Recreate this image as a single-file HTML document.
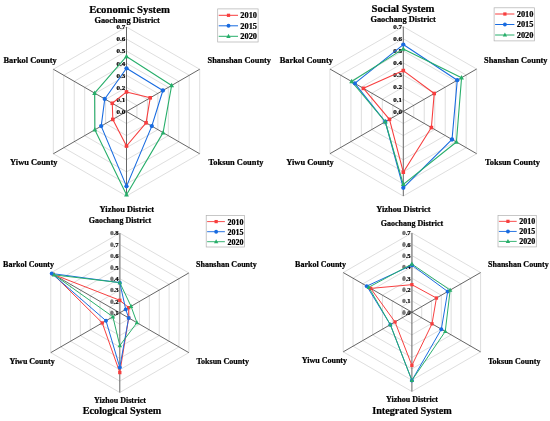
<!DOCTYPE html>
<html><head><meta charset="utf-8"><title>Radar charts</title>
<style>
html,body{margin:0;padding:0;background:#fff;}
svg{display:block}
.b{font-family:"Liberation Serif",serif;font-weight:bold;fill:#000;stroke:#000;stroke-width:0.22px;paint-order:stroke fill}
.z{fill:#7a7a7a;stroke:#7a7a7a}
</style></head><body>
<svg width="550" height="421" viewBox="0 0 550 421">
<rect width="550" height="421" fill="#fff"/>
<polygon points="126.50,99.43 136.95,105.46 136.95,117.54 126.50,123.57 116.05,117.54 116.05,105.46" fill="none" stroke="#c8c8c8" stroke-width="0.6"/>
<polygon points="126.50,87.36 147.41,99.43 147.41,123.57 126.50,135.64 105.59,123.57 105.59,99.43" fill="none" stroke="#c8c8c8" stroke-width="0.6"/>
<polygon points="126.50,75.29 157.86,93.39 157.86,129.61 126.50,147.71 95.14,129.61 95.14,93.39" fill="none" stroke="#c8c8c8" stroke-width="0.6"/>
<polygon points="126.50,63.21 168.32,87.36 168.32,135.64 126.50,159.79 84.68,135.64 84.68,87.36" fill="none" stroke="#c8c8c8" stroke-width="0.6"/>
<polygon points="126.50,51.14 178.77,81.32 178.77,141.68 126.50,171.86 74.23,141.68 74.23,81.32" fill="none" stroke="#c8c8c8" stroke-width="0.6"/>
<polygon points="126.50,39.07 189.22,75.29 189.22,147.71 126.50,183.93 63.78,147.71 63.78,75.29" fill="none" stroke="#c8c8c8" stroke-width="0.6"/>
<polygon points="126.50,27.00 199.68,69.25 199.68,153.75 126.50,196.00 53.32,153.75 53.32,69.25" fill="none" stroke="#c8c8c8" stroke-width="0.6"/>
<line x1="126.5" y1="111.5" x2="126.50" y2="27.00" stroke="#555" stroke-width="0.9"/>
<line x1="126.5" y1="111.5" x2="199.68" y2="69.25" stroke="#555" stroke-width="0.9"/>
<line x1="126.5" y1="111.5" x2="199.68" y2="153.75" stroke="#555" stroke-width="0.9"/>
<line x1="126.5" y1="111.5" x2="126.50" y2="196.00" stroke="#555" stroke-width="0.9"/>
<line x1="126.5" y1="111.5" x2="53.32" y2="153.75" stroke="#555" stroke-width="0.9"/>
<line x1="126.5" y1="111.5" x2="53.32" y2="69.25" stroke="#555" stroke-width="0.9"/>
<text x="125.30" y="113.80" font-size="7.0" text-anchor="end" class="b">0.0</text>
<text x="125.30" y="101.73" font-size="7.0" text-anchor="end" class="b">0.1</text>
<text x="125.30" y="89.66" font-size="7.0" text-anchor="end" class="b">0.2</text>
<text x="125.30" y="77.59" font-size="7.0" text-anchor="end" class="b">0.3</text>
<text x="125.30" y="65.51" font-size="7.0" text-anchor="end" class="b">0.4</text>
<text x="125.30" y="53.44" font-size="7.0" text-anchor="end" class="b">0.5</text>
<text x="125.30" y="41.37" font-size="7.0" text-anchor="end" class="b">0.6</text>
<text x="125.30" y="29.30" font-size="7.0" text-anchor="end" class="b">0.7</text>
<polygon points="126.50,91.94 150.23,97.80 146.05,122.79 126.50,146.02 112.81,119.41 112.28,103.29" fill="none" stroke="#F73E3E" stroke-width="1.08" stroke-linejoin="round"/>
<polygon points="126.50,68.28 162.88,90.50 151.80,126.11 126.50,186.34 101.20,126.11 104.76,98.95" fill="none" stroke="#186BE0" stroke-width="1.08" stroke-linejoin="round"/>
<polygon points="126.50,56.45 171.66,85.43 163.09,132.62 126.50,194.79 94.82,129.79 94.61,93.09" fill="none" stroke="#27AE6A" stroke-width="1.08" stroke-linejoin="round"/>
<rect x="124.70" y="90.14" width="3.60" height="3.60" fill="#F73E3E"/>
<rect x="148.43" y="96.00" width="3.60" height="3.60" fill="#F73E3E"/>
<rect x="144.25" y="120.99" width="3.60" height="3.60" fill="#F73E3E"/>
<rect x="124.70" y="144.22" width="3.60" height="3.60" fill="#F73E3E"/>
<rect x="111.01" y="117.61" width="3.60" height="3.60" fill="#F73E3E"/>
<rect x="110.48" y="101.49" width="3.60" height="3.60" fill="#F73E3E"/>
<circle cx="126.50" cy="68.28" r="2.15" fill="#186BE0"/>
<circle cx="162.88" cy="90.50" r="2.15" fill="#186BE0"/>
<circle cx="151.80" cy="126.11" r="2.15" fill="#186BE0"/>
<circle cx="126.50" cy="186.34" r="2.15" fill="#186BE0"/>
<circle cx="101.20" cy="126.11" r="2.15" fill="#186BE0"/>
<circle cx="104.76" cy="98.95" r="2.15" fill="#186BE0"/>
<polygon points="126.50,53.75 124.10,58.25 128.90,58.25" fill="#27AE6A"/>
<polygon points="171.66,82.73 169.26,87.23 174.06,87.23" fill="#27AE6A"/>
<polygon points="163.09,129.93 160.69,134.43 165.49,134.43" fill="#27AE6A"/>
<polygon points="126.50,192.09 124.10,196.59 128.90,196.59" fill="#27AE6A"/>
<polygon points="94.82,127.09 92.42,131.59 97.22,131.59" fill="#27AE6A"/>
<polygon points="94.61,90.39 92.21,94.89 97.01,94.89" fill="#27AE6A"/>
<text x="127.1" y="22.5" font-size="8.4" text-anchor="middle" class="b">Gaochang District</text>
<text x="207.5" y="63.3" font-size="8.4" text-anchor="start" class="b">Shanshan County</text>
<text x="208.5" y="164.6" font-size="8.4" text-anchor="start" class="b">Toksun County</text>
<text x="126.8" y="212.3" font-size="8.4" text-anchor="middle" class="b">Yizhou District</text>
<text x="57.5" y="164.6" font-size="8.4" text-anchor="end" class="b">Yiwu County</text>
<text x="56.7" y="63.3" font-size="8.4" text-anchor="end" class="b">Barkol County</text>
<text x="129.5" y="12.6" font-size="10.72" text-anchor="middle" class="b">Economic System</text>
<rect x="217.7" y="8.9" width="40.4" height="33.1" fill="#fff" stroke="#b0b0b0" stroke-width="0.7"/>
<line x1="218.70" y1="15.3" x2="238.00" y2="15.3" stroke="#F73E3E" stroke-width="1.00"/>
<rect x="226.88" y="13.68" width="3.24" height="3.24" fill="#F73E3E"/>
<text x="240.30" y="18.25" font-size="8.4" class="b">2010</text>
<line x1="218.70" y1="25.8" x2="238.00" y2="25.8" stroke="#186BE0" stroke-width="1.00"/>
<circle cx="228.50" cy="25.80" r="1.94" fill="#186BE0"/>
<text x="240.30" y="28.75" font-size="8.4" class="b">2015</text>
<line x1="218.70" y1="36.3" x2="238.00" y2="36.3" stroke="#27AE6A" stroke-width="1.00"/>
<polygon points="228.50,33.87 226.34,37.92 230.66,37.92" fill="#27AE6A"/>
<text x="240.30" y="39.25" font-size="8.4" class="b">2020</text>
<polygon points="403.30,99.25 413.78,105.30 413.78,117.40 403.30,123.45 392.82,117.40 392.82,105.30" fill="none" stroke="#c8c8c8" stroke-width="0.6"/>
<polygon points="403.30,87.15 424.26,99.25 424.26,123.45 403.30,135.55 382.34,123.45 382.34,99.25" fill="none" stroke="#c8c8c8" stroke-width="0.6"/>
<polygon points="403.30,75.05 434.74,93.20 434.74,129.50 403.30,147.65 371.86,129.50 371.86,93.20" fill="none" stroke="#c8c8c8" stroke-width="0.6"/>
<polygon points="403.30,62.95 445.22,87.15 445.22,135.55 403.30,159.75 361.38,135.55 361.38,87.15" fill="none" stroke="#c8c8c8" stroke-width="0.6"/>
<polygon points="403.30,50.85 455.69,81.10 455.69,141.60 403.30,171.85 350.91,141.60 350.91,81.10" fill="none" stroke="#c8c8c8" stroke-width="0.6"/>
<polygon points="403.30,38.75 466.17,75.05 466.17,147.65 403.30,183.95 340.43,147.65 340.43,75.05" fill="none" stroke="#c8c8c8" stroke-width="0.6"/>
<polygon points="403.30,26.65 476.65,69.00 476.65,153.70 403.30,196.05 329.95,153.70 329.95,69.00" fill="none" stroke="#c8c8c8" stroke-width="0.6"/>
<line x1="403.3" y1="111.35" x2="403.30" y2="26.65" stroke="#555" stroke-width="0.9"/>
<line x1="403.3" y1="111.35" x2="476.65" y2="69.00" stroke="#555" stroke-width="0.9"/>
<line x1="403.3" y1="111.35" x2="476.65" y2="153.70" stroke="#555" stroke-width="0.9"/>
<line x1="403.3" y1="111.35" x2="403.30" y2="196.05" stroke="#555" stroke-width="0.9"/>
<line x1="403.3" y1="111.35" x2="329.95" y2="153.70" stroke="#555" stroke-width="0.9"/>
<line x1="403.3" y1="111.35" x2="329.95" y2="69.00" stroke="#555" stroke-width="0.9"/>
<text x="402.10" y="113.65" font-size="7.0" text-anchor="end" class="b">0.0</text>
<text x="402.10" y="101.55" font-size="7.0" text-anchor="end" class="b">0.1</text>
<text x="402.10" y="89.45" font-size="7.0" text-anchor="end" class="b">0.2</text>
<text x="402.10" y="77.35" font-size="7.0" text-anchor="end" class="b">0.3</text>
<text x="402.10" y="65.25" font-size="7.0" text-anchor="end" class="b">0.4</text>
<text x="402.10" y="53.15" font-size="7.0" text-anchor="end" class="b">0.5</text>
<text x="402.10" y="41.05" font-size="7.0" text-anchor="end" class="b">0.6</text>
<text x="402.10" y="28.95" font-size="7.0" text-anchor="end" class="b">0.7</text>
<polygon points="403.30,70.57 434.21,93.50 431.38,127.56 403.30,172.21 389.47,119.34 363.48,88.36" fill="none" stroke="#F73E3E" stroke-width="1.08" stroke-linejoin="round"/>
<polygon points="403.30,44.56 457.27,80.19 452.03,139.48 403.30,187.82 385.28,121.76 354.78,83.34" fill="none" stroke="#186BE0" stroke-width="1.08" stroke-linejoin="round"/>
<polygon points="403.30,48.91 461.56,77.71 456.43,142.02 403.30,184.31 385.28,121.76 351.64,81.52" fill="none" stroke="#27AE6A" stroke-width="1.08" stroke-linejoin="round"/>
<rect x="401.50" y="68.77" width="3.60" height="3.60" fill="#F73E3E"/>
<rect x="432.41" y="91.70" width="3.60" height="3.60" fill="#F73E3E"/>
<rect x="429.58" y="125.76" width="3.60" height="3.60" fill="#F73E3E"/>
<rect x="401.50" y="170.41" width="3.60" height="3.60" fill="#F73E3E"/>
<rect x="387.67" y="117.54" width="3.60" height="3.60" fill="#F73E3E"/>
<rect x="361.68" y="86.56" width="3.60" height="3.60" fill="#F73E3E"/>
<circle cx="403.30" cy="44.56" r="2.15" fill="#186BE0"/>
<circle cx="457.27" cy="80.19" r="2.15" fill="#186BE0"/>
<circle cx="452.03" cy="139.48" r="2.15" fill="#186BE0"/>
<circle cx="403.30" cy="187.82" r="2.15" fill="#186BE0"/>
<circle cx="385.28" cy="121.76" r="2.15" fill="#186BE0"/>
<circle cx="354.78" cy="83.34" r="2.15" fill="#186BE0"/>
<polygon points="403.30,46.21 400.90,50.71 405.70,50.71" fill="#27AE6A"/>
<polygon points="461.56,75.01 459.16,79.51 463.96,79.51" fill="#27AE6A"/>
<polygon points="456.43,139.32 454.03,143.82 458.83,143.82" fill="#27AE6A"/>
<polygon points="403.30,181.61 400.90,186.11 405.70,186.11" fill="#27AE6A"/>
<polygon points="385.28,119.06 382.88,123.56 387.68,123.56" fill="#27AE6A"/>
<polygon points="351.64,78.82 349.24,83.32 354.04,83.32" fill="#27AE6A"/>
<text x="403.1" y="22.1" font-size="8.4" text-anchor="middle" class="b">Gaochang District</text>
<text x="484" y="63.3" font-size="8.4" text-anchor="start" class="b">Shanshan County</text>
<text x="485" y="164.6" font-size="8.4" text-anchor="start" class="b">Toksun County</text>
<text x="403.4" y="212.1" font-size="8.4" text-anchor="middle" class="b">Yizhou District</text>
<text x="333.7" y="164.6" font-size="8.4" text-anchor="end" class="b">Yiwu County</text>
<text x="333" y="63.3" font-size="8.4" text-anchor="end" class="b">Barkol County</text>
<text x="403" y="11.6" font-size="10.72" text-anchor="middle" class="b">Social System</text>
<rect x="494.1" y="7.8" width="40.4" height="33.1" fill="#fff" stroke="#b0b0b0" stroke-width="0.7"/>
<line x1="495.10" y1="14.0" x2="514.40" y2="14.0" stroke="#F73E3E" stroke-width="1.00"/>
<rect x="503.28" y="12.38" width="3.24" height="3.24" fill="#F73E3E"/>
<text x="516.70" y="16.95" font-size="8.4" class="b">2010</text>
<line x1="495.10" y1="24.5" x2="514.40" y2="24.5" stroke="#186BE0" stroke-width="1.00"/>
<circle cx="504.90" cy="24.50" r="1.94" fill="#186BE0"/>
<text x="516.70" y="27.45" font-size="8.4" class="b">2015</text>
<line x1="495.10" y1="35.0" x2="514.40" y2="35.0" stroke="#27AE6A" stroke-width="1.00"/>
<polygon points="504.90,32.57 502.74,36.62 507.06,36.62" fill="#27AE6A"/>
<text x="516.70" y="37.95" font-size="8.4" class="b">2020</text>
<polygon points="119.80,301.41 129.66,307.11 129.66,318.49 119.80,324.19 109.94,318.49 109.94,307.11" fill="none" stroke="#c8c8c8" stroke-width="0.6"/>
<polygon points="119.80,290.03 139.52,301.41 139.52,324.19 119.80,335.57 100.08,324.19 100.08,301.41" fill="none" stroke="#c8c8c8" stroke-width="0.6"/>
<polygon points="119.80,278.64 149.38,295.72 149.38,329.88 119.80,346.96 90.22,329.88 90.22,295.72" fill="none" stroke="#c8c8c8" stroke-width="0.6"/>
<polygon points="119.80,267.26 159.24,290.03 159.24,335.57 119.80,358.34 80.36,335.57 80.36,290.03" fill="none" stroke="#c8c8c8" stroke-width="0.6"/>
<polygon points="119.80,255.87 169.10,284.34 169.10,341.26 119.80,369.73 70.50,341.26 70.50,284.34" fill="none" stroke="#c8c8c8" stroke-width="0.6"/>
<polygon points="119.80,244.49 178.96,278.64 178.96,346.96 119.80,381.11 60.64,346.96 60.64,278.64" fill="none" stroke="#c8c8c8" stroke-width="0.6"/>
<polygon points="119.80,233.10 188.82,272.95 188.82,352.65 119.80,392.50 50.78,352.65 50.78,272.95" fill="none" stroke="#c8c8c8" stroke-width="0.6"/>
<line x1="119.8" y1="312.8" x2="119.80" y2="233.10" stroke="#9a9a9a" stroke-width="1.7"/>
<line x1="119.8" y1="312.8" x2="188.82" y2="272.95" stroke="#555" stroke-width="0.9"/>
<line x1="119.8" y1="312.8" x2="188.82" y2="352.65" stroke="#555" stroke-width="0.9"/>
<line x1="119.8" y1="312.8" x2="119.80" y2="392.50" stroke="#555" stroke-width="0.9"/>
<line x1="119.8" y1="312.8" x2="50.78" y2="352.65" stroke="#555" stroke-width="0.9"/>
<line x1="119.8" y1="312.8" x2="50.78" y2="272.95" stroke="#555" stroke-width="0.9"/>
<ellipse cx="111.90" cy="312.80" rx="1.54" ry="2.21" fill="#7a7a7a"/>
<text x="118.60" y="315.10" font-size="6.7" text-anchor="end" class="b"><tspan class="z">0</tspan>.1</text>
<ellipse cx="111.90" cy="301.41" rx="1.54" ry="2.21" fill="#7a7a7a"/>
<text x="118.60" y="303.71" font-size="6.7" text-anchor="end" class="b"><tspan class="z">0</tspan>.2</text>
<ellipse cx="111.90" cy="290.03" rx="1.54" ry="2.21" fill="#7a7a7a"/>
<text x="118.60" y="292.33" font-size="6.7" text-anchor="end" class="b"><tspan class="z">0</tspan>.3</text>
<ellipse cx="111.90" cy="278.64" rx="1.54" ry="2.21" fill="#7a7a7a"/>
<text x="118.60" y="280.94" font-size="6.7" text-anchor="end" class="b"><tspan class="z">0</tspan>.4</text>
<ellipse cx="111.90" cy="267.26" rx="1.54" ry="2.21" fill="#7a7a7a"/>
<text x="118.60" y="269.56" font-size="6.7" text-anchor="end" class="b"><tspan class="z">0</tspan>.5</text>
<ellipse cx="111.90" cy="255.87" rx="1.54" ry="2.21" fill="#7a7a7a"/>
<text x="118.60" y="258.17" font-size="6.7" text-anchor="end" class="b"><tspan class="z">0</tspan>.6</text>
<ellipse cx="111.90" cy="244.49" rx="1.54" ry="2.21" fill="#7a7a7a"/>
<text x="118.60" y="246.79" font-size="6.7" text-anchor="end" class="b"><tspan class="z">0</tspan>.7</text>
<ellipse cx="111.90" cy="233.10" rx="1.54" ry="2.21" fill="#7a7a7a"/>
<text x="118.60" y="235.40" font-size="6.7" text-anchor="end" class="b"><tspan class="z">0</tspan>.8</text>
<polygon points="119.80,300.28 128.67,307.68 128.67,317.92 119.80,372.57 102.25,322.93 53.24,274.37" fill="none" stroke="#F73E3E" stroke-width="0.99" stroke-linejoin="round"/>
<polygon points="119.80,282.63 125.72,309.38 128.67,317.92 119.80,367.45 106.00,320.77 51.76,273.52" fill="none" stroke="#186BE0" stroke-width="0.99" stroke-linejoin="round"/>
<polygon points="119.80,282.63 131.04,306.31 136.96,322.71 119.80,345.59 112.90,316.79 54.03,274.83" fill="none" stroke="#27AE6A" stroke-width="0.99" stroke-linejoin="round"/>
<rect x="118.14" y="298.62" width="3.31" height="3.31" fill="#F73E3E"/>
<rect x="127.02" y="306.02" width="3.31" height="3.31" fill="#F73E3E"/>
<rect x="127.02" y="316.27" width="3.31" height="3.31" fill="#F73E3E"/>
<rect x="118.14" y="370.92" width="3.31" height="3.31" fill="#F73E3E"/>
<rect x="100.59" y="321.28" width="3.31" height="3.31" fill="#F73E3E"/>
<rect x="51.59" y="272.72" width="3.31" height="3.31" fill="#F73E3E"/>
<circle cx="119.80" cy="282.63" r="1.98" fill="#186BE0"/>
<circle cx="125.72" cy="309.38" r="1.98" fill="#186BE0"/>
<circle cx="128.67" cy="317.92" r="1.98" fill="#186BE0"/>
<circle cx="119.80" cy="367.45" r="1.98" fill="#186BE0"/>
<circle cx="106.00" cy="320.77" r="1.98" fill="#186BE0"/>
<circle cx="51.76" cy="273.52" r="1.98" fill="#186BE0"/>
<polygon points="119.80,280.14 117.59,284.28 122.01,284.28" fill="#27AE6A"/>
<polygon points="131.04,303.83 128.83,307.97 133.25,307.97" fill="#27AE6A"/>
<polygon points="136.96,320.22 134.75,324.36 139.16,324.36" fill="#27AE6A"/>
<polygon points="119.80,343.11 117.59,347.25 122.01,347.25" fill="#27AE6A"/>
<polygon points="112.90,314.30 110.69,318.44 115.11,318.44" fill="#27AE6A"/>
<polygon points="54.03,272.34 51.82,276.48 56.24,276.48" fill="#27AE6A"/>
<text x="120" y="223" font-size="8.0" text-anchor="middle" class="b">Gaochang District</text>
<text x="196" y="267" font-size="8.0" text-anchor="start" class="b">Shanshan County</text>
<text x="196.5" y="364.2" font-size="8.0" text-anchor="start" class="b">Toksun County</text>
<text x="120" y="402.5" font-size="8.0" text-anchor="middle" class="b">Yizhou District</text>
<text x="54.7" y="364.2" font-size="8.0" text-anchor="end" class="b">Yiwu County</text>
<text x="54" y="267" font-size="8.0" text-anchor="end" class="b">Barkol County</text>
<text x="122" y="413.7" font-size="10.2" text-anchor="middle" class="b">Ecological System</text>
<rect x="206.2" y="215.5" width="38.3" height="31.5" fill="#fff" stroke="#b0b0b0" stroke-width="0.7"/>
<line x1="207.12" y1="221.6" x2="224.88" y2="221.6" stroke="#F73E3E" stroke-width="0.92"/>
<rect x="214.52" y="219.98" width="3.24" height="3.24" fill="#F73E3E"/>
<text x="227.50" y="224.55" font-size="8.0" class="b">2010</text>
<line x1="207.12" y1="231.7" x2="224.88" y2="231.7" stroke="#186BE0" stroke-width="0.92"/>
<circle cx="216.14" cy="231.70" r="1.94" fill="#186BE0"/>
<text x="227.50" y="234.65" font-size="8.0" class="b">2015</text>
<line x1="207.12" y1="241.7" x2="224.88" y2="241.7" stroke="#27AE6A" stroke-width="0.92"/>
<polygon points="216.14,239.27 213.98,243.32 218.30,243.32" fill="#27AE6A"/>
<text x="227.50" y="244.65" font-size="8.0" class="b">2020</text>
<polygon points="411.90,300.87 421.71,306.54 421.71,317.86 411.90,323.53 402.09,317.86 402.09,306.54" fill="none" stroke="#c8c8c8" stroke-width="0.6"/>
<polygon points="411.90,289.54 431.52,300.87 431.52,323.53 411.90,334.86 392.28,323.53 392.28,300.87" fill="none" stroke="#c8c8c8" stroke-width="0.6"/>
<polygon points="411.90,278.21 441.33,295.21 441.33,329.19 411.90,346.19 382.47,329.19 382.47,295.21" fill="none" stroke="#c8c8c8" stroke-width="0.6"/>
<polygon points="411.90,266.89 451.14,289.54 451.14,334.86 411.90,357.51 372.66,334.86 372.66,289.54" fill="none" stroke="#c8c8c8" stroke-width="0.6"/>
<polygon points="411.90,255.56 460.95,283.88 460.95,340.52 411.90,368.84 362.85,340.52 362.85,283.88" fill="none" stroke="#c8c8c8" stroke-width="0.6"/>
<polygon points="411.90,244.23 470.76,278.21 470.76,346.19 411.90,380.17 353.04,346.19 353.04,278.21" fill="none" stroke="#c8c8c8" stroke-width="0.6"/>
<polygon points="411.90,232.90 480.58,272.55 480.58,351.85 411.90,391.50 343.22,351.85 343.22,272.55" fill="none" stroke="#c8c8c8" stroke-width="0.6"/>
<line x1="411.9" y1="312.2" x2="411.90" y2="232.90" stroke="#9a9a9a" stroke-width="1.7"/>
<line x1="411.9" y1="312.2" x2="480.58" y2="272.55" stroke="#555" stroke-width="0.9"/>
<line x1="411.9" y1="312.2" x2="480.58" y2="351.85" stroke="#555" stroke-width="0.9"/>
<line x1="411.9" y1="312.2" x2="411.90" y2="391.50" stroke="#555" stroke-width="0.9"/>
<line x1="411.9" y1="312.2" x2="343.22" y2="351.85" stroke="#555" stroke-width="0.9"/>
<line x1="411.9" y1="312.2" x2="343.22" y2="272.55" stroke="#555" stroke-width="0.9"/>
<ellipse cx="404.00" cy="312.20" rx="1.54" ry="2.21" fill="#7a7a7a"/>
<text x="410.70" y="314.50" font-size="6.7" text-anchor="end" class="b"><tspan class="z">0</tspan>.0</text>
<ellipse cx="404.00" cy="300.87" rx="1.54" ry="2.21" fill="#7a7a7a"/>
<text x="410.70" y="303.17" font-size="6.7" text-anchor="end" class="b"><tspan class="z">0</tspan>.1</text>
<ellipse cx="404.00" cy="289.54" rx="1.54" ry="2.21" fill="#7a7a7a"/>
<text x="410.70" y="291.84" font-size="6.7" text-anchor="end" class="b"><tspan class="z">0</tspan>.2</text>
<ellipse cx="404.00" cy="278.21" rx="1.54" ry="2.21" fill="#7a7a7a"/>
<text x="410.70" y="280.51" font-size="6.7" text-anchor="end" class="b"><tspan class="z">0</tspan>.3</text>
<ellipse cx="404.00" cy="266.89" rx="1.54" ry="2.21" fill="#7a7a7a"/>
<text x="410.70" y="269.19" font-size="6.7" text-anchor="end" class="b"><tspan class="z">0</tspan>.4</text>
<ellipse cx="404.00" cy="255.56" rx="1.54" ry="2.21" fill="#7a7a7a"/>
<text x="410.70" y="257.86" font-size="6.7" text-anchor="end" class="b"><tspan class="z">0</tspan>.5</text>
<ellipse cx="404.00" cy="244.23" rx="1.54" ry="2.21" fill="#7a7a7a"/>
<text x="410.70" y="246.53" font-size="6.7" text-anchor="end" class="b"><tspan class="z">0</tspan>.6</text>
<ellipse cx="404.00" cy="232.90" rx="1.54" ry="2.21" fill="#7a7a7a"/>
<text x="410.70" y="235.20" font-size="6.7" text-anchor="end" class="b"><tspan class="z">0</tspan>.7</text>
<polygon points="411.90,284.67 436.43,298.04 432.01,323.81 411.90,365.44 395.03,321.94 370.69,288.41" fill="none" stroke="#F73E3E" stroke-width="0.99" stroke-linejoin="round"/>
<polygon points="411.90,265.19 447.71,291.53 441.33,329.19 411.90,380.40 390.32,324.66 366.77,286.14" fill="none" stroke="#186BE0" stroke-width="0.99" stroke-linejoin="round"/>
<polygon points="411.90,264.05 450.16,290.11 445.26,331.46 411.90,380.40 390.32,324.66 368.73,287.28" fill="none" stroke="#27AE6A" stroke-width="0.99" stroke-linejoin="round"/>
<rect x="410.24" y="283.02" width="3.31" height="3.31" fill="#F73E3E"/>
<rect x="434.77" y="296.38" width="3.31" height="3.31" fill="#F73E3E"/>
<rect x="430.36" y="322.16" width="3.31" height="3.31" fill="#F73E3E"/>
<rect x="410.24" y="363.79" width="3.31" height="3.31" fill="#F73E3E"/>
<rect x="393.37" y="320.29" width="3.31" height="3.31" fill="#F73E3E"/>
<rect x="369.04" y="286.75" width="3.31" height="3.31" fill="#F73E3E"/>
<circle cx="411.90" cy="265.19" r="1.98" fill="#186BE0"/>
<circle cx="447.71" cy="291.53" r="1.98" fill="#186BE0"/>
<circle cx="441.33" cy="329.19" r="1.98" fill="#186BE0"/>
<circle cx="411.90" cy="380.40" r="1.98" fill="#186BE0"/>
<circle cx="390.32" cy="324.66" r="1.98" fill="#186BE0"/>
<circle cx="366.77" cy="286.14" r="1.98" fill="#186BE0"/>
<polygon points="411.90,261.57 409.69,265.71 414.11,265.71" fill="#27AE6A"/>
<polygon points="450.16,287.63 447.95,291.77 452.37,291.77" fill="#27AE6A"/>
<polygon points="445.26,328.97 443.05,333.11 447.46,333.11" fill="#27AE6A"/>
<polygon points="411.90,377.91 409.69,382.05 414.11,382.05" fill="#27AE6A"/>
<polygon points="390.32,322.18 388.11,326.32 392.52,326.32" fill="#27AE6A"/>
<polygon points="368.73,284.79 366.52,288.93 370.94,288.93" fill="#27AE6A"/>
<text x="412" y="226" font-size="8.0" text-anchor="middle" class="b">Gaochang District</text>
<text x="488" y="267" font-size="8.0" text-anchor="start" class="b">Shanshan County</text>
<text x="488" y="364" font-size="8.0" text-anchor="start" class="b">Toksun County</text>
<text x="412" y="401.6" font-size="8.0" text-anchor="middle" class="b">Yizhou District</text>
<text x="347" y="363" font-size="8.0" text-anchor="end" class="b">Yiwu County</text>
<text x="346" y="267" font-size="8.0" text-anchor="end" class="b">Barkol County</text>
<text x="412" y="413.6" font-size="10.2" text-anchor="middle" class="b">Integrated System</text>
<rect x="498" y="215.4" width="38.3" height="31.5" fill="#fff" stroke="#b0b0b0" stroke-width="0.7"/>
<line x1="498.92" y1="221.35" x2="516.68" y2="221.35" stroke="#F73E3E" stroke-width="0.92"/>
<rect x="506.32" y="219.73" width="3.24" height="3.24" fill="#F73E3E"/>
<text x="519.30" y="224.30" font-size="8.0" class="b">2010</text>
<line x1="498.92" y1="231.45" x2="516.68" y2="231.45" stroke="#186BE0" stroke-width="0.92"/>
<circle cx="507.94" cy="231.45" r="1.94" fill="#186BE0"/>
<text x="519.30" y="234.40" font-size="8.0" class="b">2015</text>
<line x1="498.92" y1="241.4" x2="516.68" y2="241.4" stroke="#27AE6A" stroke-width="0.92"/>
<polygon points="507.94,238.97 505.78,243.02 510.10,243.02" fill="#27AE6A"/>
<text x="519.30" y="244.35" font-size="8.0" class="b">2020</text>
</svg>
</body></html>
